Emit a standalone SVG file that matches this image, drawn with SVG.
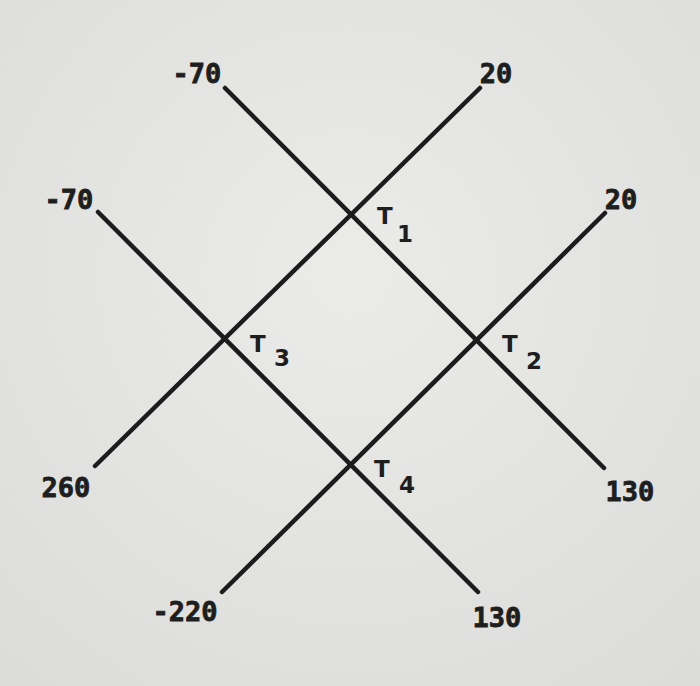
<svg xmlns="http://www.w3.org/2000/svg" width="700" height="686" viewBox="0 0 700 686">
<defs>
<radialGradient id="bg" cx="50%" cy="40%" r="75%">
<stop offset="0" stop-color="#ebebe9"/>
<stop offset="1" stop-color="#dcdcda"/>
</radialGradient>
<style>
.ln{stroke:#1c1c1c;stroke-width:4.5;stroke-linecap:round;fill:none}
.num{font-family:"DejaVu Sans Mono","Liberation Mono",monospace;font-weight:bold;font-size:27px;fill:#1e1e1e;stroke:#1e1e1e;stroke-width:0.8}
.t{font-family:"DejaVu Sans","Liberation Sans",sans-serif;font-weight:bold;font-size:23px;fill:#1e1e1e}
</style>
</defs>
<rect width="700" height="686" fill="url(#bg)"/>
<g id="connectors">
<line class="ln" x1="225" y1="88" x2="604" y2="468"/>
<line class="ln" x1="98" y1="212" x2="478" y2="592"/>
<line class="ln" x1="95" y1="466" x2="480" y2="88"/>
<line class="ln" x1="222" y1="592" x2="605" y2="213"/>
</g>
<g id="labels">
<text class="num" x="197" y="83" text-anchor="middle">-70</text>
<text class="num" x="496" y="83" text-anchor="middle">20</text>
<text class="num" x="69" y="209" text-anchor="middle">-70</text>
<text class="num" x="621" y="209" text-anchor="middle">20</text>
<text class="num" x="66" y="497" text-anchor="middle">260</text>
<text class="num" x="630" y="501" text-anchor="middle">130</text>
<text class="num" x="185" y="621" text-anchor="middle">-220</text>
<text class="num" x="497" y="627" text-anchor="middle">130</text>
</g>
<g id="T1"><text class="t" x="377" y="224">T</text><text class="t" x="397" y="242">1</text></g>
<g id="T2"><text class="t" x="502" y="352">T</text><text class="t" x="526" y="369">2</text></g>
<g id="T3"><text class="t" x="250" y="352">T</text><text class="t" x="274" y="366">3</text></g>
<g id="T4"><text class="t" x="374" y="477">T</text><text class="t" x="399" y="493">4</text></g>
</svg>
